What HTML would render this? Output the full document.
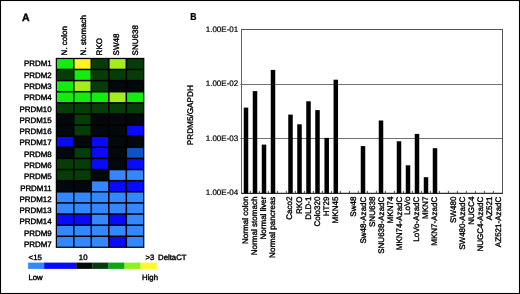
<!DOCTYPE html><html><head><meta charset="utf-8"><title>Figure</title>
<style>html,body{margin:0;padding:0;background:#fff}body{width:520px;height:294px;overflow:hidden}svg{display:block}text{font-family:"Liberation Sans",Arial,Helvetica,sans-serif;fill:#000;stroke:#000;stroke-width:0.22px;text-rendering:geometricPrecision}.h{stroke-width:0.4px}.x{stroke-width:0.36px}</style></head><body>
<svg width="520" height="294" viewBox="0 0 520 294">
<rect x="0" y="0" width="520" height="294" fill="#fff"/>
<rect x="0.5" y="0.5" width="519" height="293" fill="none" stroke="#000" stroke-width="1.1"/>
<text x="22.05" y="20.6" font-size="10.5" font-weight="bold" class="h">A</text>
<text transform="translate(190.25,20.25) scale(0.86,1)" font-size="10.1" font-weight="bold">B</text>
<rect x="55.75" y="57.85" width="88.60" height="190.05" fill="#000"/>
<rect x="57.00" y="59.10" width="16.02" height="9.62" fill="#12ec0e"/>
<rect x="74.52" y="59.10" width="16.02" height="9.62" fill="#fff222"/>
<rect x="92.04" y="59.10" width="16.02" height="9.62" fill="#063c06"/>
<rect x="109.56" y="59.10" width="16.02" height="9.62" fill="#a4ee1e"/>
<rect x="127.08" y="59.10" width="16.02" height="9.62" fill="#063c06"/>
<rect x="57.00" y="70.22" width="16.02" height="9.62" fill="#063c06"/>
<rect x="74.52" y="70.22" width="16.02" height="9.62" fill="#12ec0e"/>
<rect x="92.04" y="70.22" width="16.02" height="9.62" fill="#063c06"/>
<rect x="109.56" y="70.22" width="16.02" height="9.62" fill="#063c06"/>
<rect x="127.08" y="70.22" width="16.02" height="9.62" fill="#063c06"/>
<rect x="57.00" y="81.34" width="16.02" height="9.62" fill="#12ec0e"/>
<rect x="74.52" y="81.34" width="16.02" height="9.62" fill="#a4ee1e"/>
<rect x="92.04" y="81.34" width="16.02" height="9.62" fill="#063c06"/>
<rect x="109.56" y="81.34" width="16.02" height="9.62" fill="#03080c"/>
<rect x="127.08" y="81.34" width="16.02" height="9.62" fill="#03080c"/>
<rect x="57.00" y="92.46" width="16.02" height="9.62" fill="#12ec0e"/>
<rect x="74.52" y="92.46" width="16.02" height="9.62" fill="#12ec0e"/>
<rect x="92.04" y="92.46" width="16.02" height="9.62" fill="#12ec0e"/>
<rect x="109.56" y="92.46" width="16.02" height="9.62" fill="#a4ee1e"/>
<rect x="127.08" y="92.46" width="16.02" height="9.62" fill="#12ec0e"/>
<rect x="57.00" y="103.58" width="16.02" height="9.62" fill="#063c06"/>
<rect x="74.52" y="103.58" width="16.02" height="9.62" fill="#063c06"/>
<rect x="92.04" y="103.58" width="16.02" height="9.62" fill="#063c06"/>
<rect x="109.56" y="103.58" width="16.02" height="9.62" fill="#063c06"/>
<rect x="127.08" y="103.58" width="16.02" height="9.62" fill="#063c06"/>
<rect x="57.00" y="114.70" width="16.02" height="9.62" fill="#03080c"/>
<rect x="74.52" y="114.70" width="16.02" height="9.62" fill="#063c06"/>
<rect x="92.04" y="114.70" width="16.02" height="9.62" fill="#03080c"/>
<rect x="109.56" y="114.70" width="16.02" height="9.62" fill="#03080c"/>
<rect x="127.08" y="114.70" width="16.02" height="9.62" fill="#03080c"/>
<rect x="57.00" y="125.82" width="16.02" height="9.62" fill="#03080c"/>
<rect x="74.52" y="125.82" width="16.02" height="9.62" fill="#063c06"/>
<rect x="92.04" y="125.82" width="16.02" height="9.62" fill="#03080c"/>
<rect x="109.56" y="125.82" width="16.02" height="9.62" fill="#03080c"/>
<rect x="127.08" y="125.82" width="16.02" height="9.62" fill="#0a0afa"/>
<rect x="57.00" y="136.94" width="16.02" height="9.62" fill="#0a0afa"/>
<rect x="74.52" y="136.94" width="16.02" height="9.62" fill="#03080c"/>
<rect x="92.04" y="136.94" width="16.02" height="9.62" fill="#0a0afa"/>
<rect x="109.56" y="136.94" width="16.02" height="9.62" fill="#03080c"/>
<rect x="127.08" y="136.94" width="16.02" height="9.62" fill="#03080c"/>
<rect x="57.00" y="148.06" width="16.02" height="9.62" fill="#03080c"/>
<rect x="74.52" y="148.06" width="16.02" height="9.62" fill="#063c06"/>
<rect x="92.04" y="148.06" width="16.02" height="9.62" fill="#0a0afa"/>
<rect x="109.56" y="148.06" width="16.02" height="9.62" fill="#03080c"/>
<rect x="127.08" y="148.06" width="16.02" height="9.62" fill="#1052c6"/>
<rect x="57.00" y="159.19" width="16.02" height="9.62" fill="#063c06"/>
<rect x="74.52" y="159.19" width="16.02" height="9.62" fill="#063c06"/>
<rect x="92.04" y="159.19" width="16.02" height="9.62" fill="#0a0afa"/>
<rect x="109.56" y="159.19" width="16.02" height="9.62" fill="#03080c"/>
<rect x="127.08" y="159.19" width="16.02" height="9.62" fill="#0a0afa"/>
<rect x="57.00" y="170.31" width="16.02" height="9.62" fill="#063c06"/>
<rect x="74.52" y="170.31" width="16.02" height="9.62" fill="#063c06"/>
<rect x="92.04" y="170.31" width="16.02" height="9.62" fill="#03080c"/>
<rect x="109.56" y="170.31" width="16.02" height="9.62" fill="#3388ff"/>
<rect x="127.08" y="170.31" width="16.02" height="9.62" fill="#3388ff"/>
<rect x="57.00" y="181.43" width="16.02" height="9.62" fill="#03080c"/>
<rect x="74.52" y="181.43" width="16.02" height="9.62" fill="#03080c"/>
<rect x="92.04" y="181.43" width="16.02" height="9.62" fill="#3388ff"/>
<rect x="109.56" y="181.43" width="16.02" height="9.62" fill="#0a0afa"/>
<rect x="127.08" y="181.43" width="16.02" height="9.62" fill="#0a0afa"/>
<rect x="57.00" y="192.55" width="16.02" height="9.62" fill="#3388ff"/>
<rect x="74.52" y="192.55" width="16.02" height="9.62" fill="#3388ff"/>
<rect x="92.04" y="192.55" width="16.02" height="9.62" fill="#3388ff"/>
<rect x="109.56" y="192.55" width="16.02" height="9.62" fill="#3388ff"/>
<rect x="127.08" y="192.55" width="16.02" height="9.62" fill="#3388ff"/>
<rect x="57.00" y="203.67" width="16.02" height="9.62" fill="#3388ff"/>
<rect x="74.52" y="203.67" width="16.02" height="9.62" fill="#3388ff"/>
<rect x="92.04" y="203.67" width="16.02" height="9.62" fill="#3388ff"/>
<rect x="109.56" y="203.67" width="16.02" height="9.62" fill="#3388ff"/>
<rect x="127.08" y="203.67" width="16.02" height="9.62" fill="#3388ff"/>
<rect x="57.00" y="214.79" width="16.02" height="9.62" fill="#0a0afa"/>
<rect x="74.52" y="214.79" width="16.02" height="9.62" fill="#0a0afa"/>
<rect x="92.04" y="214.79" width="16.02" height="9.62" fill="#3388ff"/>
<rect x="109.56" y="214.79" width="16.02" height="9.62" fill="#0a0afa"/>
<rect x="127.08" y="214.79" width="16.02" height="9.62" fill="#3388ff"/>
<rect x="57.00" y="225.91" width="16.02" height="9.62" fill="#3388ff"/>
<rect x="74.52" y="225.91" width="16.02" height="9.62" fill="#3388ff"/>
<rect x="92.04" y="225.91" width="16.02" height="9.62" fill="#3388ff"/>
<rect x="109.56" y="225.91" width="16.02" height="9.62" fill="#3388ff"/>
<rect x="127.08" y="225.91" width="16.02" height="9.62" fill="#3388ff"/>
<rect x="57.00" y="237.03" width="16.02" height="9.62" fill="#3388ff"/>
<rect x="74.52" y="237.03" width="16.02" height="9.62" fill="#3388ff"/>
<rect x="92.04" y="237.03" width="16.02" height="9.62" fill="#3388ff"/>
<rect x="109.56" y="237.03" width="16.02" height="9.62" fill="#0a0afa"/>
<rect x="127.08" y="237.03" width="16.02" height="9.62" fill="#3388ff"/>
<text x="51.6" y="66.45" font-size="7.9" text-anchor="end" class="h">PRDM1</text>
<text x="51.6" y="77.73" font-size="7.9" text-anchor="end" class="h">PRDM2</text>
<text x="51.6" y="89.01" font-size="7.9" text-anchor="end" class="h">PRDM3</text>
<text x="51.6" y="100.29" font-size="7.9" text-anchor="end" class="h">PRDM4</text>
<text x="51.6" y="111.57" font-size="7.9" text-anchor="end" class="h">PRDM10</text>
<text x="51.6" y="122.85" font-size="7.9" text-anchor="end" class="h">PRDM15</text>
<text x="51.6" y="134.13" font-size="7.9" text-anchor="end" class="h">PRDM16</text>
<text x="51.6" y="145.41" font-size="7.9" text-anchor="end" class="h">PRDM17</text>
<text x="51.6" y="156.69" font-size="7.9" text-anchor="end" class="h">PRDM8</text>
<text x="51.6" y="167.97" font-size="7.9" text-anchor="end" class="h">PRDM6</text>
<text x="51.6" y="179.25" font-size="7.9" text-anchor="end" class="h">PRDM5</text>
<text x="51.6" y="190.53" font-size="7.9" text-anchor="end" class="h">PRDM11</text>
<text x="51.6" y="201.81" font-size="7.9" text-anchor="end" class="h">PRDM12</text>
<text x="51.6" y="213.09" font-size="7.9" text-anchor="end" class="h">PRDM13</text>
<text x="51.6" y="224.37" font-size="7.9" text-anchor="end" class="h">PRDM14</text>
<text x="51.6" y="235.65" font-size="7.9" text-anchor="end" class="h">PRDM9</text>
<text x="51.6" y="246.93" font-size="7.9" text-anchor="end" class="h">PRDM7</text>
<text transform="translate(67.1,55.4) rotate(-90)" font-size="8" class="h">N. colon</text>
<text transform="translate(85.8,55.4) rotate(-90)" font-size="8" class="h">N. stomach</text>
<text transform="translate(102,55.4) rotate(-90)" font-size="8" class="h">RKO</text>
<text transform="translate(119.2,55.4) rotate(-90)" font-size="8" class="h">SW48</text>
<text transform="translate(138.1,55.4) rotate(-90)" font-size="8" class="h">SNU638</text>
<rect x="28.10" y="262.6" width="16.26" height="6.3" fill="#3388ff"/>
<rect x="44.16" y="262.6" width="32.33" height="6.3" fill="#0a0afa"/>
<rect x="76.29" y="262.6" width="16.26" height="6.3" fill="#050c08"/>
<rect x="92.35" y="262.6" width="16.26" height="6.3" fill="#0a3a0a"/>
<rect x="108.41" y="262.6" width="16.26" height="6.3" fill="#0aa814"/>
<rect x="124.47" y="262.6" width="16.26" height="6.3" fill="#8ef216"/>
<rect x="140.54" y="262.6" width="16.26" height="6.3" fill="#fffa22"/>
<text x="28.6" y="259.8" font-size="7.8" class="h">&lt;15</text>
<text x="78.8" y="259.8" font-size="7.8" class="h">10</text>
<text x="145.4" y="259.8" font-size="7.8" class="h">&gt;3</text>
<text x="158" y="259.8" font-size="7.8" class="h">DeltaCT</text>
<text x="28.4" y="280" font-size="7.8" class="h">Low</text>
<text x="142" y="280" font-size="7.8" class="h">High</text>
<line x1="241.0" y1="29.50" x2="503.0" y2="29.50" stroke="#555" stroke-width="1"/>
<text x="238.2" y="31.9" font-size="8" text-anchor="end">1.00E-01</text>
<line x1="240.3" y1="84.50" x2="503.0" y2="84.50" stroke="#727272" stroke-width="1"/>
<text x="238.2" y="85.8" font-size="8" text-anchor="end">1.00E-02</text>
<line x1="240.3" y1="138.50" x2="503.0" y2="138.50" stroke="#727272" stroke-width="1"/>
<text x="238.2" y="141.2" font-size="8" text-anchor="end">1.00E-03</text>
<line x1="241.0" y1="193.40" x2="503.0" y2="193.40" stroke="#2c2c2c" stroke-width="1.2"/>
<text x="238.2" y="195.3" font-size="8" text-anchor="end">1.00E-04</text>
<line x1="241.5" y1="29.5" x2="241.5" y2="193.4" stroke="#606060" stroke-width="1"/>
<line x1="502.5" y1="29.5" x2="502.5" y2="193.4" stroke="#555" stroke-width="1"/>
<line x1="250.40" y1="190.9" x2="250.40" y2="193.4" stroke="#3a3a3a" stroke-width="0.9"/>
<line x1="259.40" y1="190.9" x2="259.40" y2="193.4" stroke="#3a3a3a" stroke-width="0.9"/>
<line x1="268.40" y1="190.9" x2="268.40" y2="193.4" stroke="#3a3a3a" stroke-width="0.9"/>
<line x1="277.40" y1="190.9" x2="277.40" y2="193.4" stroke="#3a3a3a" stroke-width="0.9"/>
<line x1="286.40" y1="190.9" x2="286.40" y2="193.4" stroke="#3a3a3a" stroke-width="0.9"/>
<line x1="295.40" y1="190.9" x2="295.40" y2="193.4" stroke="#3a3a3a" stroke-width="0.9"/>
<line x1="304.40" y1="190.9" x2="304.40" y2="193.4" stroke="#3a3a3a" stroke-width="0.9"/>
<line x1="313.40" y1="190.9" x2="313.40" y2="193.4" stroke="#3a3a3a" stroke-width="0.9"/>
<line x1="322.40" y1="190.9" x2="322.40" y2="193.4" stroke="#3a3a3a" stroke-width="0.9"/>
<line x1="331.40" y1="190.9" x2="331.40" y2="193.4" stroke="#3a3a3a" stroke-width="0.9"/>
<line x1="340.40" y1="190.9" x2="340.40" y2="193.4" stroke="#3a3a3a" stroke-width="0.9"/>
<line x1="349.40" y1="190.9" x2="349.40" y2="193.4" stroke="#3a3a3a" stroke-width="0.9"/>
<line x1="358.40" y1="190.9" x2="358.40" y2="193.4" stroke="#3a3a3a" stroke-width="0.9"/>
<line x1="367.40" y1="190.9" x2="367.40" y2="193.4" stroke="#3a3a3a" stroke-width="0.9"/>
<line x1="376.40" y1="190.9" x2="376.40" y2="193.4" stroke="#3a3a3a" stroke-width="0.9"/>
<line x1="385.40" y1="190.9" x2="385.40" y2="193.4" stroke="#3a3a3a" stroke-width="0.9"/>
<line x1="394.40" y1="190.9" x2="394.40" y2="193.4" stroke="#3a3a3a" stroke-width="0.9"/>
<line x1="403.40" y1="190.9" x2="403.40" y2="193.4" stroke="#3a3a3a" stroke-width="0.9"/>
<line x1="412.40" y1="190.9" x2="412.40" y2="193.4" stroke="#3a3a3a" stroke-width="0.9"/>
<line x1="421.40" y1="190.9" x2="421.40" y2="193.4" stroke="#3a3a3a" stroke-width="0.9"/>
<line x1="430.40" y1="190.9" x2="430.40" y2="193.4" stroke="#3a3a3a" stroke-width="0.9"/>
<line x1="439.40" y1="190.9" x2="439.40" y2="193.4" stroke="#3a3a3a" stroke-width="0.9"/>
<line x1="448.40" y1="190.9" x2="448.40" y2="193.4" stroke="#3a3a3a" stroke-width="0.9"/>
<line x1="457.40" y1="190.9" x2="457.40" y2="193.4" stroke="#3a3a3a" stroke-width="0.9"/>
<line x1="466.40" y1="190.9" x2="466.40" y2="193.4" stroke="#3a3a3a" stroke-width="0.9"/>
<line x1="475.40" y1="190.9" x2="475.40" y2="193.4" stroke="#3a3a3a" stroke-width="0.9"/>
<line x1="484.40" y1="190.9" x2="484.40" y2="193.4" stroke="#3a3a3a" stroke-width="0.9"/>
<line x1="493.40" y1="190.9" x2="493.40" y2="193.4" stroke="#3a3a3a" stroke-width="0.9"/>
<rect x="243.75" y="107.6" width="4.5" height="85.80" fill="#000"/>
<rect x="252.75" y="91.1" width="4.5" height="102.30" fill="#000"/>
<rect x="261.75" y="144.6" width="4.5" height="48.80" fill="#000"/>
<rect x="270.75" y="69.9" width="4.5" height="123.50" fill="#000"/>
<rect x="288.25" y="114.6" width="4.5" height="78.80" fill="#000"/>
<rect x="297.25" y="124.3" width="4.5" height="69.10" fill="#000"/>
<rect x="306.25" y="101.3" width="4.5" height="92.10" fill="#000"/>
<rect x="315.25" y="110.1" width="4.5" height="83.30" fill="#000"/>
<rect x="324.45" y="137.9" width="4.5" height="55.50" fill="#000"/>
<rect x="333.55" y="79.7" width="4.5" height="113.70" fill="#000"/>
<rect x="360.75" y="146.1" width="4.5" height="47.30" fill="#000"/>
<rect x="378.75" y="120.5" width="4.5" height="72.90" fill="#000"/>
<rect x="396.75" y="141.3" width="4.5" height="52.10" fill="#000"/>
<rect x="405.75" y="165.3" width="4.5" height="28.10" fill="#000"/>
<rect x="414.75" y="133.9" width="4.5" height="59.50" fill="#000"/>
<rect x="423.75" y="177.2" width="4.5" height="16.20" fill="#000"/>
<rect x="432.75" y="148.2" width="4.5" height="45.20" fill="#000"/>
<text transform="translate(247.60,196.6) rotate(-90)" font-size="8.05" text-anchor="end" class="x">Normal colon</text>
<text transform="translate(256.60,196.6) rotate(-90)" font-size="8.05" text-anchor="end" class="x">Normal stomach</text>
<text transform="translate(265.60,196.6) rotate(-90)" font-size="8.05" text-anchor="end" class="x">Normal liver</text>
<text transform="translate(274.60,196.6) rotate(-90)" font-size="8.05" text-anchor="end" class="x">Normal pancreas</text>
<text transform="translate(292.10,196.6) rotate(-90)" font-size="8.05" text-anchor="end" class="x">Caco2</text>
<text transform="translate(301.80,196.6) rotate(-90)" font-size="8.05" text-anchor="end" class="x">RKO</text>
<text transform="translate(310.60,196.6) rotate(-90)" font-size="8.05" text-anchor="end" class="x">DLD-1</text>
<text transform="translate(319.65,196.6) rotate(-90)" font-size="8.05" text-anchor="end" class="x">Colo320</text>
<text transform="translate(329.10,196.6) rotate(-90)" font-size="8.05" text-anchor="end" class="x">HT29</text>
<text transform="translate(338.45,196.6) rotate(-90)" font-size="8.05" text-anchor="end" class="x">MKN45</text>
<text transform="translate(356.20,196.6) rotate(-90)" font-size="8.05" text-anchor="end" class="x">Sw48</text>
<text transform="translate(366.00,196.6) rotate(-90)" font-size="8.05" text-anchor="end" class="x">Sw48-AzadC</text>
<text transform="translate(374.70,196.6) rotate(-90)" font-size="8.05" text-anchor="end" class="x">SNU638</text>
<text transform="translate(383.70,196.6) rotate(-90)" font-size="8.05" text-anchor="end" class="x">SNU638-AzadC</text>
<text transform="translate(392.60,196.6) rotate(-90)" font-size="8.05" text-anchor="end" class="x">MKN74</text>
<text transform="translate(401.50,196.6) rotate(-90)" font-size="8.05" text-anchor="end" class="x">MKN74-AzadC</text>
<text transform="translate(410.20,196.6) rotate(-90)" font-size="8.05" text-anchor="end" class="x">LoVo</text>
<text transform="translate(419.35,196.6) rotate(-90)" font-size="8.05" text-anchor="end" class="x">LoVo-AzadC</text>
<text transform="translate(428.40,196.6) rotate(-90)" font-size="8.05" text-anchor="end" class="x">MKN7</text>
<text transform="translate(437.40,196.6) rotate(-90)" font-size="8.05" text-anchor="end" class="x">MKN7-AzadC</text>
<text transform="translate(455.90,196.6) rotate(-90)" font-size="8.05" text-anchor="end" class="x">SW480</text>
<text transform="translate(464.80,196.6) rotate(-90)" font-size="8.05" text-anchor="end" class="x">SW480-AzadC</text>
<text transform="translate(473.60,196.6) rotate(-90)" font-size="8.05" text-anchor="end" class="x">NUGC4</text>
<text transform="translate(482.60,196.6) rotate(-90)" font-size="8.05" text-anchor="end" class="x">NUGC4-AzadC</text>
<text transform="translate(492.20,196.6) rotate(-90)" font-size="8.05" text-anchor="end" class="x">AZ521</text>
<text transform="translate(500.90,196.6) rotate(-90)" font-size="8.05" text-anchor="end" class="x">AZ521-AzadC</text>
<text transform="translate(193.4,115.2) rotate(-90)" font-size="8.2" text-anchor="middle" class="x">PRDM5/GAPDH</text>
</svg></body></html>
